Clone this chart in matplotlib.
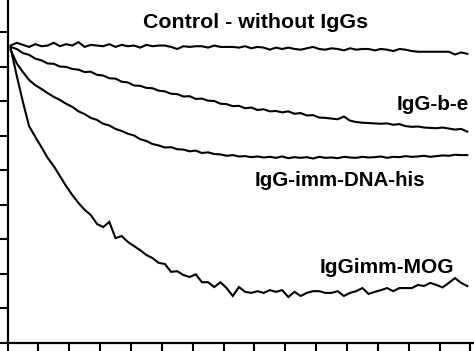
import matplotlib
matplotlib.use("Agg")
import matplotlib.pyplot as plt

# time axis (arbitrary units)
time = [0.1, 0.3, 0.5, 0.7, 0.9, 1.1, 1.3, 1.5, 1.7, 1.9,
        2.1, 2.3, 2.5, 2.7, 2.9, 3.1, 3.3, 3.5, 3.7, 3.9,
        4.1, 4.3, 4.5, 4.7, 4.9, 5.1, 5.3, 5.5, 5.7, 5.9,
        6.1, 6.3, 6.5, 6.7, 6.9, 7.1, 7.3, 7.5, 7.7, 7.9,
        8.1, 8.3, 8.5, 8.7, 8.9, 9.1, 9.3, 9.5, 9.7, 9.9,
        10.1, 10.3, 10.5, 10.7, 10.9, 11.1, 11.3, 11.5, 11.7, 11.9,
        12.1, 12.3, 12.5, 12.7, 12.9, 13.1, 13.3, 13.5, 13.7, 13.9,
        14.1, 14.3, 14.5, 14.7, 14.9]

control = [8.62, 8.70, 8.64, 8.58, 8.66, 8.60, 8.62, 8.70, 8.60, 8.66,
           8.62, 8.72, 8.58, 8.64, 8.62, 8.60, 8.66, 8.58, 8.64, 8.60,
           8.62, 8.56, 8.64, 8.60, 8.62, 8.62, 8.58, 8.52, 8.60, 8.58,
           8.60, 8.60, 8.56, 8.62, 8.58, 8.58, 8.58, 8.56, 8.60, 8.54,
           8.58, 8.56, 8.50, 8.56, 8.52, 8.56, 8.52, 8.50, 8.54, 8.58,
           8.52, 8.50, 8.54, 8.52, 8.48, 8.54, 8.50, 8.52, 8.52, 8.48,
           8.52, 8.50, 8.46, 8.52, 8.50, 8.46, 8.44, 8.44, 8.44, 8.44,
           8.44, 8.44, 8.36, 8.42, 8.38]

igg_be = [8.58, 8.52, 8.40, 8.35, 8.24, 8.19, 8.10, 8.09, 8.01, 8.00,
          7.94, 7.92, 7.85, 7.86, 7.77, 7.75, 7.67, 7.66, 7.57, 7.55,
          7.46, 7.45, 7.39, 7.38, 7.31, 7.29, 7.22, 7.21, 7.14, 7.15,
          7.07, 7.08, 7.02, 7.01, 6.93, 6.92, 6.86, 6.87, 6.80, 6.82,
          6.75, 6.77, 6.71, 6.72, 6.68, 6.71, 6.64, 6.66, 6.59, 6.60,
          6.53, 6.52, 6.50, 6.48, 6.56, 6.44, 6.40, 6.38, 6.37, 6.36,
          6.35, 6.36, 6.32, 6.34, 6.28, 6.26, 6.27, 6.24, 6.23, 6.22,
          6.24, 6.21, 6.18, 6.20, 6.12]

igg_imm_dna = [8.50, 8.10, 7.85, 7.62, 7.47, 7.36, 7.24, 7.13, 7.04, 6.93,
               6.84, 6.71, 6.63, 6.52, 6.46, 6.35, 6.30, 6.20, 6.14, 6.06,
               6.01, 5.90, 5.85, 5.76, 5.72, 5.66, 5.67, 5.61, 5.60, 5.55,
               5.57, 5.50, 5.52, 5.47, 5.46, 5.42, 5.44, 5.40, 5.41, 5.38,
               5.40, 5.37, 5.39, 5.36, 5.40, 5.35, 5.38, 5.36, 5.38, 5.34,
               5.39, 5.36, 5.37, 5.35, 5.39, 5.37, 5.36, 5.39, 5.37, 5.38,
               5.40, 5.36, 5.39, 5.38, 5.41, 5.39, 5.40, 5.42, 5.39, 5.41,
               5.43, 5.42, 5.45, 5.44, 5.44]

igg_mog = [8.55, 7.74, 6.98, 6.28, 5.97, 5.67, 5.36, 5.12, 4.83, 4.54,
           4.28, 4.05, 3.85, 3.70, 3.44, 3.35, 3.50, 3.03, 3.09, 2.92,
           2.80, 2.68, 2.54, 2.45, 2.31, 2.28, 2.05, 2.07, 1.96, 1.90,
           1.98, 1.75, 1.75, 1.61, 1.75, 1.58, 1.35, 1.61, 1.47, 1.44,
           1.49, 1.44, 1.52, 1.47, 1.52, 1.32, 1.47, 1.35, 1.44, 1.49,
           1.49, 1.44, 1.44, 1.49, 1.35, 1.44, 1.49, 1.58, 1.41, 1.47,
           1.52, 1.58, 1.49, 1.58, 1.58, 1.58, 1.67, 1.64, 1.73, 1.67,
           1.60, 1.73, 1.87, 1.73, 1.64]

labels = ["Control - without IgGs", "IgG-b-e", "IgG-imm-DNA-his", "IgGimm-MOG"]
label_x = [4.39, 12.62, 8.02, 10.13]
label_y = [9.13, 6.75, 4.54, 2.02]
label_size = [15.4, 14.9, 14.8, 15.0]

x_ticks = list(range(0, 17))
y_ticks = list(range(0, 11))

W, H = 474, 351
fig = plt.figure(figsize=(W / 100, H / 100), dpi=100)
px_x = 30.86
px_y = 34.45
xmax, ymax = 16.5, 10.5
ax = fig.add_axes([7.5 / W, 8.5 / H, xmax * px_x / W, ymax * px_y / H])

for series in [control, igg_be, igg_imm_dna, igg_mog]:
    ax.plot(time, series, color="black", lw=1.5, solid_joinstyle="miter")

for t, lx, ly, fs in zip(labels, label_x, label_y, label_size):
    ax.text(lx, ly, t, fontsize=fs, fontweight="bold", family="Liberation Sans",
            ha="left", va="baseline", color="black")

ax.set_xlim(0, xmax)
ax.set_ylim(0, ymax)
ax.set_xticks(x_ticks)
ax.set_yticks(y_ticks)
ax.set_xticklabels([])
ax.set_yticklabels([])
ax.tick_params(direction="out", length=5.5, width=1.5, color="black")
for s in ["top", "right"]:
    ax.spines[s].set_visible(False)
for s in ["left", "bottom"]:
    ax.spines[s].set_linewidth(1.6)
    ax.spines[s].set_color("black")

fig.savefig("out.png", dpi=100)
